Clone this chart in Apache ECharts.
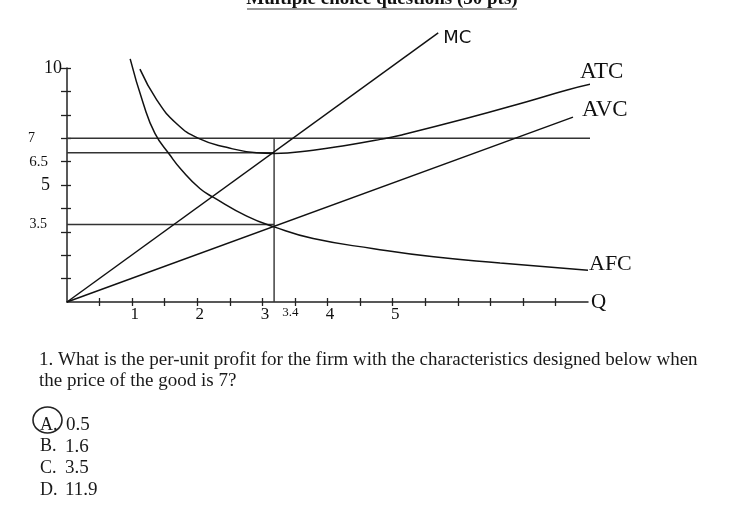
<!DOCTYPE html>
<html>
<head>
<meta charset="utf-8">
<script src="https://cdn.jsdelivr.net/npm/echarts@6.0.0/dist/echarts.min.js"></script>
<style>
  html, body { margin: 0; padding: 0; background: #fff; }
  #chart { width: 748px; height: 516px; }
</style>
</head>
<body>
<div id="chart"></div>
<script>
// ---- data (Q on x, price/cost on y) ----
const mcCurve  = [[0, 0], [5.7, 11.5]];
const avcCurve = [[0, 0], [7.77, 7.9]];
const atcCurve = [[1.12, 9.95], [1.38, 8.63], [1.68, 7.63], [2.02, 6.99], [2.45, 6.61],
                  [2.91, 6.38], [3.18, 6.35], [3.78, 6.49], [4.30, 6.70], [4.81, 6.95],
                  [5.12, 7.13], [6.14, 7.85], [7.06, 8.56], [7.68, 9.06], [8.06, 9.32]];
const afcCurve = [[0.97, 10.39], [1.17, 8.49], [1.35, 7.21], [1.58, 6.28], [1.76, 5.64],
                  [2.04, 4.85], [2.25, 4.47], [2.76, 3.67], [3.18, 3.21], [3.78, 2.71],
                  [4.71, 2.28], [5.63, 1.93], [6.65, 1.67], [8.0, 1.36]];
const curveNames = ['MC', 'ATC', 'AVC', 'AFC'];

const priceLevels = [7, 6.38, 3.31];      // horizontal guide lines
const priceLineEnds = [8.25, 3.18, 3.18]; // Q where each guide line stops
const qStar = 3.18;                       // vertical guide line
const qStarTop = 7;

const xTicks = [0.5, 1, 1.5, 2, 2.5, 3, 3.5, 4, 4.5, 5, 5.5, 6, 6.5, 7, 7.5];
const xLabelAt = [1, 2, 3, 3.4, 4, 5];
const xLabelText = ['1', '2', '3', '3.4', '4', '5'];
const yTicks = [1, 2, 3, 4, 5, 6, 7, 8, 9, 10];
const yLabelAt = [10, 7, 6, 5, 3.3];
const yLabelText = ['10', '7', '6.5', '5', '3.5'];

const questionLines = ['1. What is the per-unit profit for the firm with the characteristics designed below when',
                       'the price of the good is 7?'];
const choiceLetters = ['A.', 'B.', 'C.', 'D.'];
const choiceValues = ['0.5', '1.6', '3.5', '11.9'];
const heading = 'Multiple choice questions (30 pts)';

// ---- styles ----
const INK = '#111';
const SERIF = '"Liberation Serif", "Times New Roman", serif';
const find = (arr, v) => arr.findIndex(a => Math.abs(a - v) < 1e-6);

const yRichKey = { '10': 'big', '5': 'five', '7': 'seven', '6.5': 'mid', '3.5': 'low' };
const yRich = {
  big:   { fontFamily: SERIF, fontSize: 18, color: INK, padding: [0, 1, 0, 0] },
  five:  { fontFamily: SERIF, fontSize: 18, color: INK, padding: [0, 13, 0, 0] },
  seven: { fontFamily: SERIF, fontSize: 14, color: INK, padding: [0, 28, 0, 0] },
  mid:   { fontFamily: SERIF, fontSize: 15, color: INK, padding: [0, 15, 0, 0] },
  low:   { fontFamily: SERIF, fontSize: 14, color: INK, padding: [0, 16, 0, 0] }
};
const xRich = {
  n: { fontFamily: SERIF, fontSize: 17, color: INK, padding: [0, 0, 0, 5] },
  s: { fontFamily: SERIF, fontSize: 13, color: INK, padding: [0, 0, 0, 4] }
};

const curveStyle = { color: INK, width: 1.5 };
const guideStyle = { color: '#333', width: 1.4 };
const endLabelStyle = {
  MC:  { fontFamily: '"DejaVu Sans", sans-serif', fontSize: 18, offset: [-3, 5] },
  ATC: { fontFamily: SERIF, fontSize: 23, offset: [-18, -12] },
  AVC: { fontFamily: SERIF, fontSize: 23, offset: [1, -7] },
  AFC: { fontFamily: SERIF, fontSize: 22, offset: [-7, -6] }
};
const curveData = { MC: mcCurve, ATC: atcCurve, AVC: avcCurve, AFC: afcCurve };

const series = [];
curveNames.forEach(name => {
  const smooth = name === 'ATC' || name === 'AFC';
  series.push({
    name, type: 'line', data: curveData[name], showSymbol: false, symbol: 'none',
    smooth: smooth ? 0.5 : false,
    clip: false, lineStyle: curveStyle, silent: true, z: 3,
    endLabel: Object.assign({ show: true, formatter: name, color: INK }, endLabelStyle[name])
  });
});
priceLevels.forEach((p, i) => {
  series.push({
    type: 'line', data: [[0, p], [priceLineEnds[i], p]], symbol: 'none',
    clip: false, lineStyle: guideStyle, silent: true, z: 2
  });
});
series.push({
  type: 'line', data: [[qStar, 0], [qStar, qStarTop]], symbol: 'none',
  clip: false, lineStyle: guideStyle, silent: true, z: 2
});

const axisLineStyle = { color: '#222', width: 1.5 };
const tickStyle = { color: '#222', width: 1.3 };

const graphic = [
  { type: 'text', x: 382, y: -1, style: { text: heading, font: 'bold 19px ' + SERIF, fill: INK, align: 'center', verticalAlign: 'middle' } },
  { type: 'line', shape: { x1: 247, y1: 9, x2: 517, y2: 9 }, style: { stroke: '#333', lineWidth: 1.2 } },
  { type: 'ellipse', shape: { cx: 47.5, cy: 420, rx: 14.5, ry: 13 }, style: { stroke: '#222', lineWidth: 1.6, fill: 'none' } }
];
questionLines.forEach((t, i) => {
  graphic.push({ type: 'text', x: 39, y: 360 + i * 21,
    style: { text: t, font: '19px ' + SERIF, fill: '#1a1a1a', verticalAlign: 'middle' } });
});
choiceLetters.forEach((t, i) => {
  graphic.push({ type: 'text', x: 40, y: 425 + i * 21.7,
    style: { text: t, font: '18px ' + SERIF, fill: '#1a1a1a', verticalAlign: 'middle' } });
  graphic.push({ type: 'text', x: i === 0 ? 66 : 65, y: 425 + i * 21.7,
    style: { text: choiceValues[i], font: '19px ' + SERIF, fill: '#1a1a1a', verticalAlign: 'middle' } });
});

const option = {
  animation: false,
  backgroundColor: '#fff',
  grid: { left: 67, top: 68, width: 521, height: 234 },
  xAxis: [
    {
      type: 'value', min: 0, max: 8, position: 'bottom',
      axisLine: { lineStyle: axisLineStyle },
      axisTick: { show: true, customValues: xTicks, length: 4, lineStyle: tickStyle },
      axisLabel: {
        customValues: xLabelAt, margin: 4, rich: xRich,
        formatter: v => { const i = find(xLabelAt, v); const t = xLabelText[i]; return t === '3.4' ? '{s|' + t + '}' : '{n|' + t + '}'; }
      },
      splitLine: { show: false },
      name: 'Q', nameLocation: 'end', nameGap: 3,
      nameTextStyle: { fontFamily: SERIF, fontSize: 21, color: INK, padding: [0, 0, 7, 0] }
    },
    {
      type: 'value', min: 0, max: 8, position: 'bottom',
      axisLine: { show: false },
      axisTick: { show: true, inside: true, customValues: xTicks, length: 4, lineStyle: tickStyle },
      axisLabel: { show: false }, splitLine: { show: false }
    }
  ],
  yAxis: [
    {
      type: 'value', min: 0, max: 10, position: 'left',
      axisLine: { show: true, lineStyle: axisLineStyle },
      axisTick: { show: true, customValues: yTicks, length: 6, lineStyle: tickStyle },
      axisLabel: {
        customValues: yLabelAt, margin: 4, rich: yRich,
        formatter: v => { const t = yLabelText[find(yLabelAt, v)]; return '{' + yRichKey[t] + '|' + t + '}'; }
      },
      splitLine: { show: false }
    },
    {
      type: 'value', min: 0, max: 10, position: 'left',
      axisLine: { show: false },
      axisTick: { show: true, inside: true, customValues: yTicks, length: 4, lineStyle: tickStyle },
      axisLabel: { show: false }, splitLine: { show: false }
    }
  ],
  series,
  graphic
};

const chart = echarts.init(document.getElementById('chart'), null, { renderer: 'canvas' });
chart.setOption(option);
</script>
</body>
</html>
